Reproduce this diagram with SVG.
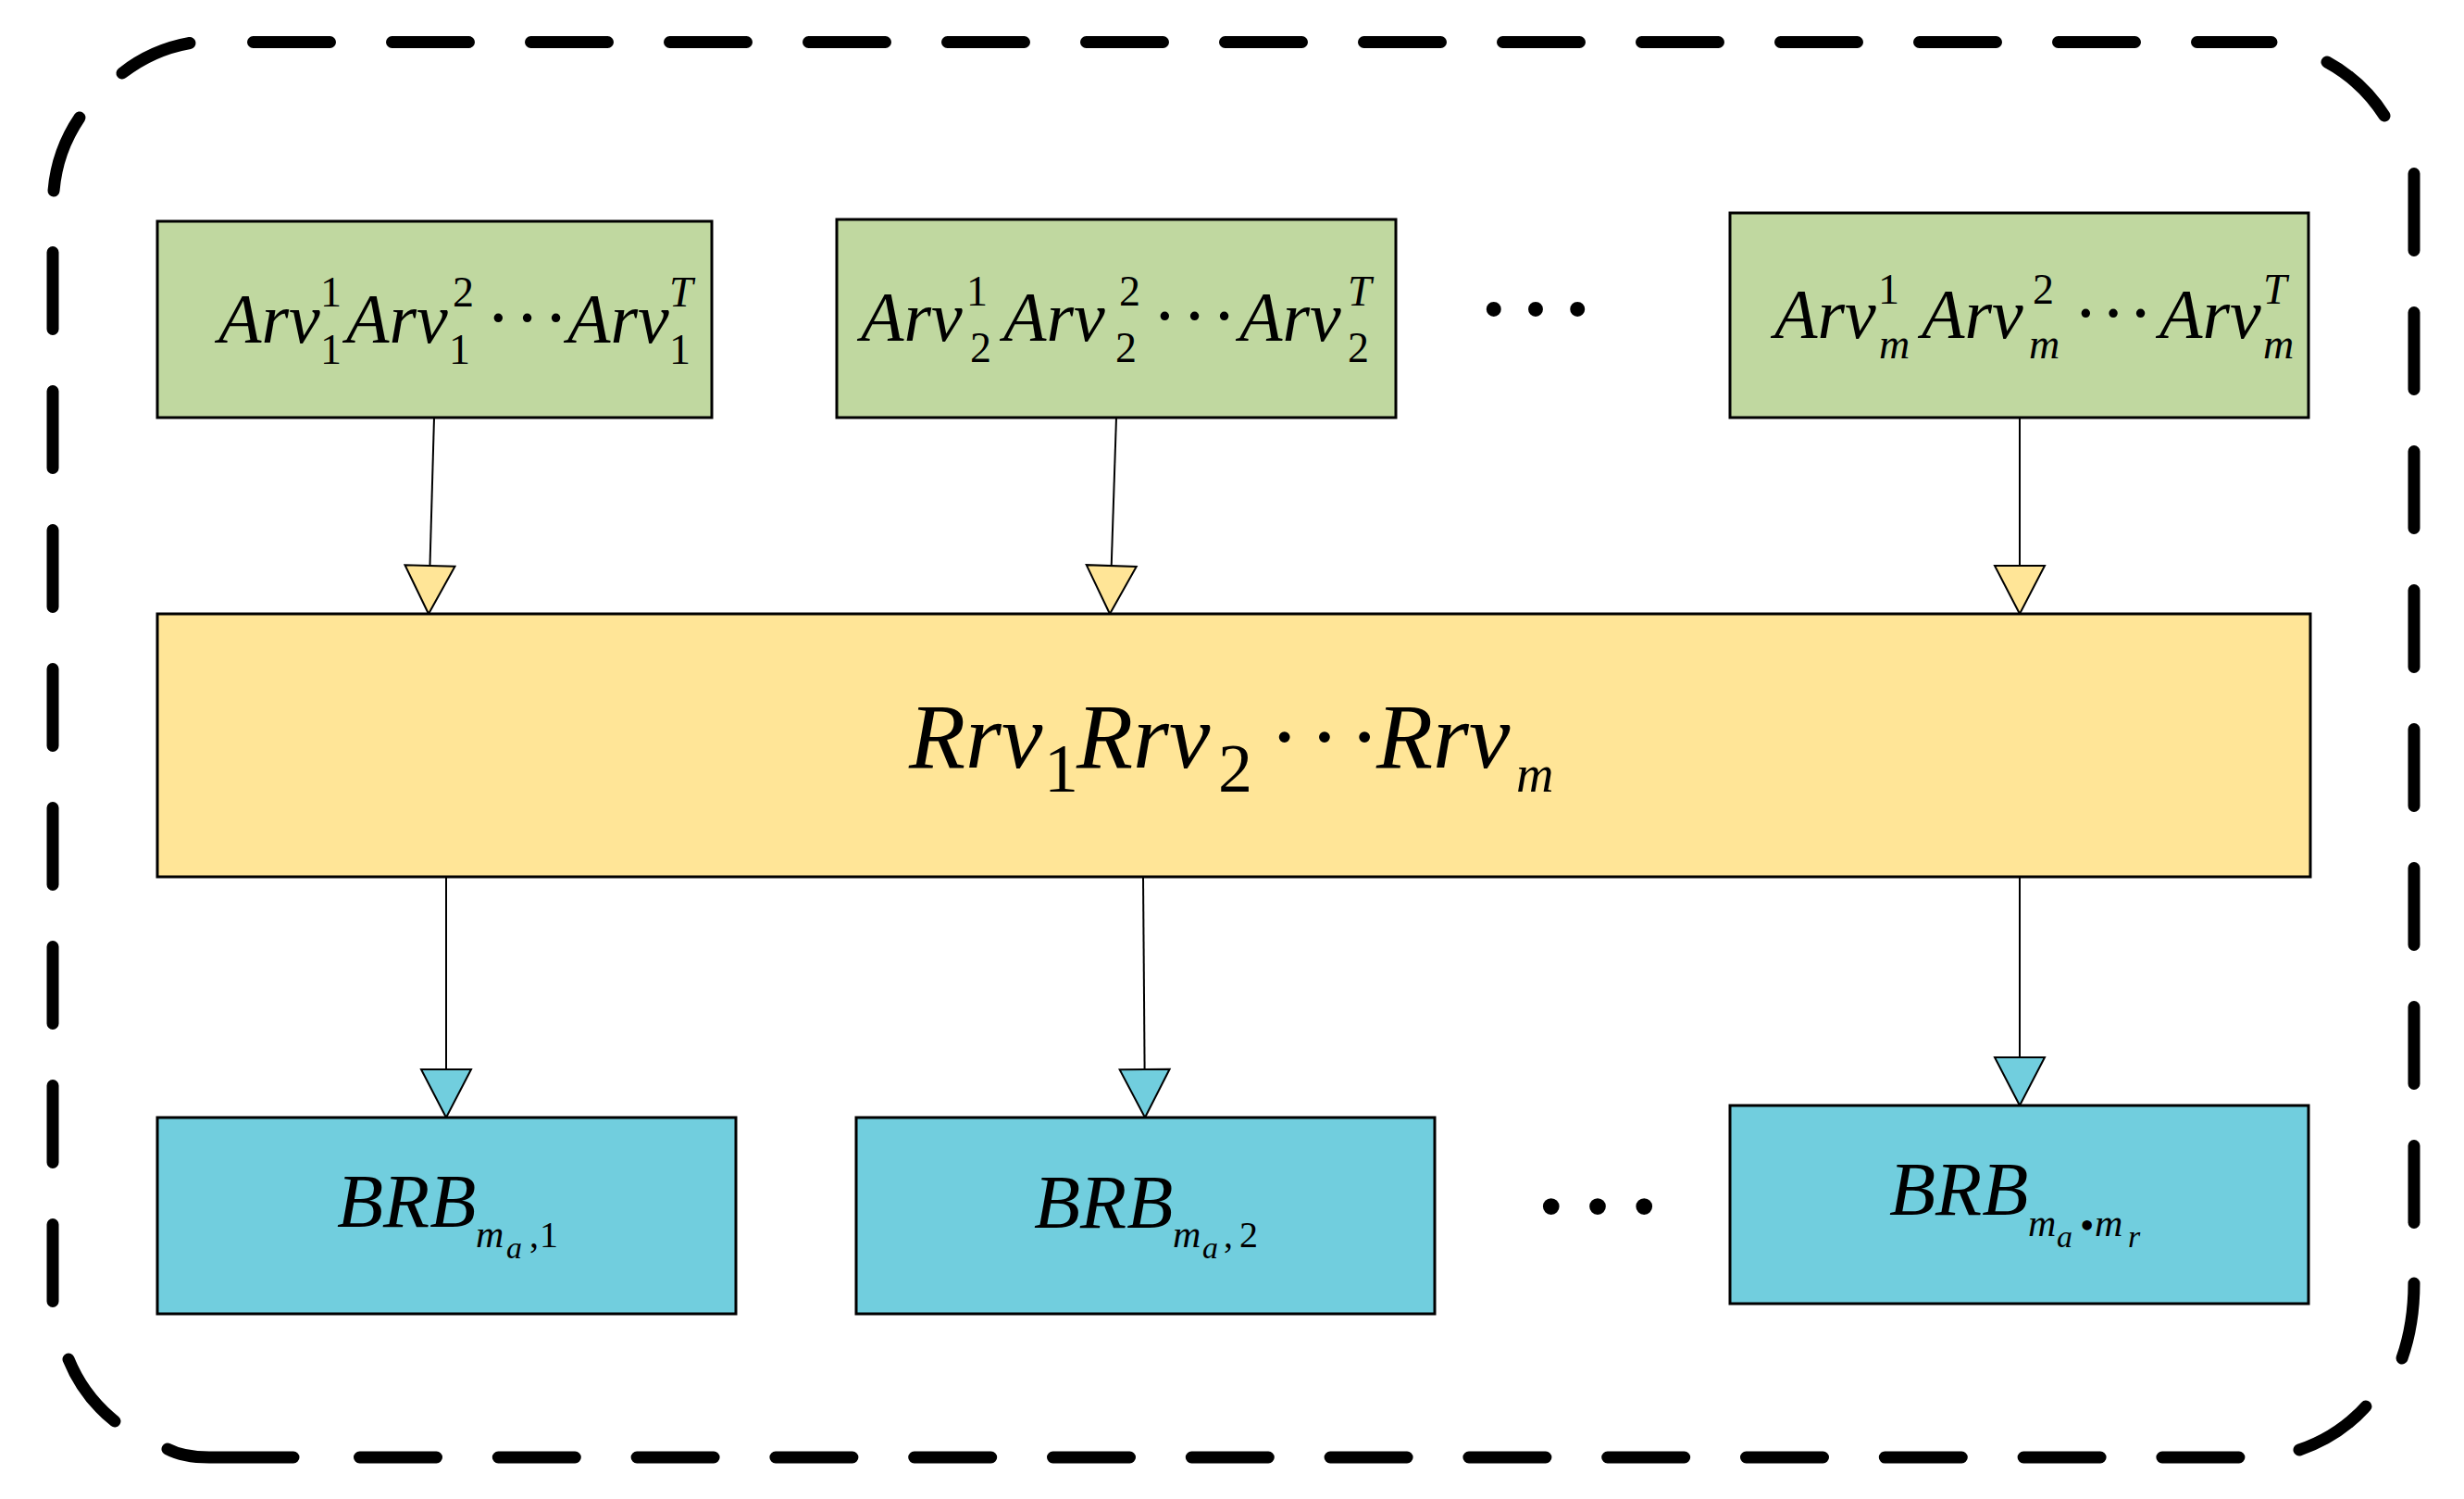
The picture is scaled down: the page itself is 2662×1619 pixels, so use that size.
<svg xmlns="http://www.w3.org/2000/svg" width="2662" height="1619" viewBox="0 0 2662 1619">
<style>
.box{stroke:#000;stroke-width:3}
.g{fill:#C0D8A0}.y{fill:#FFE597}.b{fill:#71CEDE}
.i{font-style:italic}
.c{stroke:#000;stroke-width:2;fill:none}
.d{fill:none;stroke:#000;stroke-width:13;stroke-linecap:round}
.sd{stroke-dasharray:83 67}
</style>
<defs>
<marker id="ay" markerUnits="userSpaceOnUse" viewBox="-2 -2 56 58" refX="52" refY="27" markerWidth="56" markerHeight="58" orient="auto"><path d="M0 0 L52 27 L0 54 Z" fill="#FFE597" stroke="#000" stroke-width="2"/></marker>
<marker id="ab" markerUnits="userSpaceOnUse" viewBox="-2 -2 56 58" refX="52" refY="27" markerWidth="56" markerHeight="58" orient="auto"><path d="M0 0 L52 27 L0 54 Z" fill="#71CEDE" stroke="#000" stroke-width="2"/></marker>
</defs>
<rect width="2662" height="1619" fill="#fff"/>
<g id="frame" class="d">
<path class="sd" d="M273.5 45.5 H2454"/>
<path d="M2514 67 A170 170 0 0 1 2576 125"/>
<path class="sd" d="M2608 187.5 V1321"/>
<path d="M2608 1386 Q2608 1430 2595 1467"/>
<path d="M2484 1566 A170 170 0 0 0 2556 1519"/>
<path d="M388.5 1574 H2420" style="stroke-dasharray:83 66.8"/>
<path d="M181 1565 Q198 1574 226 1574 H317"/>
<path d="M74 1468 A165 165 0 0 0 124 1535"/>
<path class="sd" d="M57 272.5 V1406"/>
<path d="M86 127 A165 165 0 0 0 58 206"/>
<path d="M205 46.5 A165 165 0 0 0 132 79"/>
</g>
<g id="connectors">
<path class="c" d="M469 451 L463 663" marker-end="url(#ay)"/>
<path class="c" d="M1206 451 L1199 663" marker-end="url(#ay)"/>
<path class="c" d="M2182 451 L2182 663" marker-end="url(#ay)"/>
<path class="c" d="M482 947 L482 1207" marker-end="url(#ab)"/>
<path class="c" d="M1235 947 L1237 1207" marker-end="url(#ab)"/>
<path class="c" d="M2182 947 L2182 1194" marker-end="url(#ab)"/>
</g>
<g id="arv1">
<rect class="box g" x="170" y="239" width="599" height="212"/>
<text font-family="Liberation Serif, Times New Roman, serif" fill="#000"><tspan class="i" x="236" y="370" font-size="76">Arv</tspan><tspan x="346" y="331" font-size="46">1</tspan><tspan x="346" y="393" font-size="46">1</tspan><tspan class="i" x="374" y="370" font-size="76">Arv</tspan><tspan x="489" y="331" font-size="46">2</tspan><tspan x="485" y="393" font-size="46">1</tspan><tspan x="525" y="370" font-size="80" letter-spacing="4.5">···</tspan><tspan class="i" x="613" y="370" font-size="76">Arv</tspan><tspan class="i" x="723" y="331" font-size="46">T</tspan><tspan x="723" y="393" font-size="46">1</tspan></text>
</g>
<g id="arv2">
<rect class="box g" x="904" y="237" width="604" height="214"/>
<text font-family="Liberation Serif, Times New Roman, serif" fill="#000"><tspan class="i" x="930" y="368" font-size="76">Arv</tspan><tspan x="1044" y="330" font-size="46">1</tspan><tspan x="1048" y="391" font-size="46">2</tspan><tspan class="i" x="1084" y="368" font-size="76">Arv</tspan><tspan x="1209" y="330" font-size="46">2</tspan><tspan x="1205" y="391" font-size="46">2</tspan><tspan x="1245" y="368" font-size="80" letter-spacing="5.5">···</tspan><tspan class="i" x="1339" y="368" font-size="76">Arv</tspan><tspan class="i" x="1456" y="330" font-size="46">T</tspan><tspan x="1456" y="391" font-size="46">2</tspan></text>
</g>
<g id="dots-top">
<text font-family="Liberation Serif, Times New Roman, serif" fill="#000" x="1659" y="340" font-size="135" text-anchor="middle">…</text>
</g>
<g id="arvm">
<rect class="box g" x="1869" y="230" width="625" height="221"/>
<text font-family="Liberation Serif, Times New Roman, serif" fill="#000"><tspan class="i" x="1917" y="365" font-size="76">Arv</tspan><tspan x="2029" y="328" font-size="46">1</tspan><tspan class="i" x="2030" y="387" font-size="46">m</tspan><tspan class="i" x="2076" y="365" font-size="76">Arv</tspan><tspan x="2196" y="328" font-size="46">2</tspan><tspan class="i" x="2192" y="387" font-size="46">m</tspan><tspan x="2240" y="365" font-size="80" letter-spacing="3">···</tspan><tspan class="i" x="2333" y="365" font-size="76">Arv</tspan><tspan class="i" x="2445" y="328" font-size="46">T</tspan><tspan class="i" x="2445" y="387" font-size="46">m</tspan></text>
</g>
<g id="rrv">
<rect class="box y" x="170" y="663" width="2326" height="284"/>
<text font-family="Liberation Serif, Times New Roman, serif" fill="#000"><tspan class="i" x="982" y="829" font-size="100">Rrv</tspan><tspan x="1128" y="855" font-size="74">1</tspan><tspan class="i" x="1163" y="829" font-size="100">Rrv</tspan><tspan x="1316" y="855" font-size="74">2</tspan><tspan x="1371" y="829" font-size="100" letter-spacing="10">···</tspan><tspan class="i" x="1487" y="829" font-size="100">Rrv</tspan><tspan class="i" x="1638" y="855" font-size="56">m</tspan></text>
</g>
<g id="brb1">
<rect class="box b" x="170" y="1207" width="625" height="212"/>
<text font-family="Liberation Serif, Times New Roman, serif" fill="#000"><tspan class="i" x="364" y="1325" font-size="82">BRB</tspan><tspan class="i" x="514" y="1347" font-size="42">m</tspan><tspan class="i" x="547" y="1359" font-size="34">a</tspan><tspan x="572" y="1347" font-size="40">,</tspan><tspan x="583" y="1347" font-size="40">1</tspan></text>
</g>
<g id="brb2">
<rect class="box b" x="925" y="1207" width="625" height="212"/>
<text font-family="Liberation Serif, Times New Roman, serif" fill="#000"><tspan class="i" x="1117" y="1326" font-size="82">BRB</tspan><tspan class="i" x="1267" y="1347" font-size="42">m</tspan><tspan class="i" x="1299" y="1359" font-size="34">a</tspan><tspan x="1322" y="1347" font-size="40">,</tspan><tspan x="1339" y="1347" font-size="40">2</tspan></text>
</g>
<g id="dots-bottom">
<text font-family="Liberation Serif, Times New Roman, serif" fill="#000" x="1726" y="1310" font-size="150" text-anchor="middle">…</text>
</g>
<g id="brb3">
<rect class="box b" x="1869" y="1194" width="625" height="214"/>
<text font-family="Liberation Serif, Times New Roman, serif" fill="#000"><tspan class="i" x="2041" y="1312" font-size="82">BRB</tspan><tspan class="i" x="2191" y="1335" font-size="42">m</tspan><tspan class="i" x="2222" y="1347" font-size="34">a</tspan><tspan x="2247" y="1338" font-size="44">•</tspan><tspan class="i" x="2263" y="1335" font-size="42">m</tspan><tspan class="i" x="2299" y="1347" font-size="34">r</tspan></text>
</g>
</svg>
